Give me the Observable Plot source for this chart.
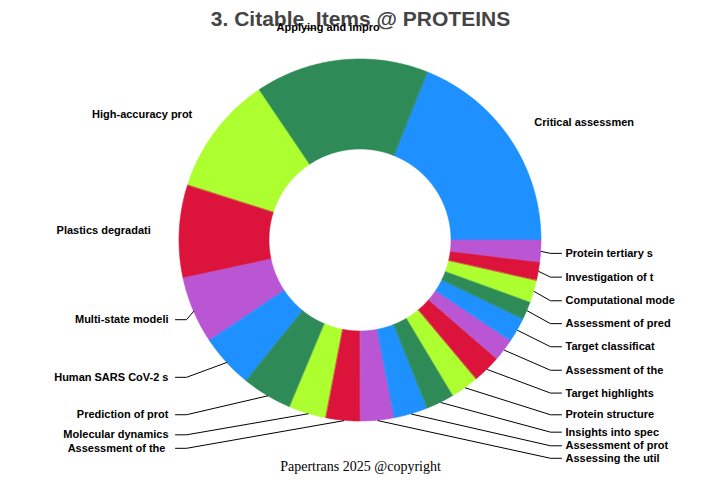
<!DOCTYPE html>
<html>
<head>
<meta charset="utf-8">
<script src="https://cdn.jsdelivr.net/npm/d3@7"></script>
<script src="https://cdn.jsdelivr.net/npm/@observablehq/plot@0.6"></script>
<style>
  html, body { margin: 0; padding: 0; background: #ffffff; }
  #chart { width: 720px; height: 480px; }
</style>
</head>
<body>
<div id="chart"></div>
<script>
// ---- data ----
const titleText = "3. Citable_Items @ PROTEINS";
const captionText = "Papertrans 2025 @copyright";
const labels = [
  "Critical assessmen", "Applying and impro", "High-accuracy prot", "Plastics degradati",
  "Multi-state modeli", "Human SARS CoV-2 s", "Prediction of prot", "Molecular dynamics",
  "Assessment of the ", "Assessing the util", "Assessment of prot", "Insights into spec",
  "Protein structure", "Target highlights", "Assessment of the", "Target classificat",
  "Assessment of pred", "Computational mode", "Investigation of t", "Protein tertiary s"
];
const values = [
  68.2, 55.8, 38.3, 29.8,
  21.5, 17.3, 16.2, 11.9,
  11.0, 10.8, 10.9, 9.1,
  9.0, 9.1, 7.2, 7.9,
  5.9, 7.1, 5.9, 6.9
];
const palette = ["#1E90FF", "#2E8B57", "#ADFF2F", "#DC143C", "#BA55D3"];

// ---- layout constants ----
const W = 720, H = 480;
const cx = 360, cy = 240, R = 181, Ri = 91;
const directR = 210;          // radius for labels of large slices
const rightR = 214, leftR = 203;
const gapR = 12.5, gapL = 13.5;
const font = "Arial, 'Liberation Sans', Helvetica, sans-serif";
const labelSize = 11;

const total = d3.sum(values);
const arcs = d3.pie().sort(null).value(d => d)(values);

// slice bands
const slicePts = [];
arcs.forEach((a, i) => {
  const n = Math.max(2, Math.ceil((a.endAngle - a.startAngle) / 0.01));
  for (let k = 0; k <= n; k++) {
    const t = a.startAngle + (a.endAngle - a.startAngle) * k / n;
    slicePts.push({
      id: i, color: palette[i % palette.length],
      ox: cx + R * Math.cos(t), oy: cy - R * Math.sin(t),
      ix: cx + Ri * Math.cos(t), iy: cy - Ri * Math.sin(t)
    });
  }
});

// labels
const direct = [], right = [], left = [];
arcs.forEach((a, i) => {
  const mid = (a.startAngle + a.endAngle) / 2;
  const frac = values[i] / total;
  const c = Math.cos(mid), s = Math.sin(mid);
  const item = {id: i, text: labels[i], mid, ex: cx + R * c, ey: cy - R * s};
  if (frac >= 0.07) {
    item.x = cx + directR * c;
    item.y = cy - directR * s;
    item.anchor = Math.abs(c) < 0.25 ? "middle" : (c > 0 ? "start" : "end");
    if (item.anchor === "middle") {
      const halfW = labels[i].length * labelSize * 0.29;
      item.x += halfW * c * 1.6;
      item.y -= 4;
    }
    direct.push(item);
  } else if (c >= 0) {
    item.y = cy - rightR * s;
    right.push(item);
  } else {
    item.y = cy - leftR * s;
    left.push(item);
  }
});
function spread(list, gap) {
  list.sort((a, b) => a.y - b.y);
  for (let k = 1; k < list.length; k++) {
    if (list[k].y < list[k - 1].y + gap) list[k].y = list[k - 1].y + gap;
  }
}
spread(right, gapR); spread(left, gapL);

const rightTextX = 565, rightEndX = 561, rightElbowX = 550;
const leftTextX = 168, leftEndX = 175, leftElbowX = 186;
const leaders = [];
right.forEach(d => {
  d.x = rightTextX;
  leaders.push({id: d.id, x: d.ex, y: d.ey}, {id: d.id, x: rightElbowX, y: d.y}, {id: d.id, x: rightEndX, y: d.y});
});
left.forEach(d => {
  d.x = leftTextX;
  leaders.push({id: d.id, x: d.ex, y: d.ey}, {id: d.id, x: leftElbowX, y: d.y}, {id: d.id, x: leftEndX, y: d.y});
});

const labelStyle = {x: "x", y: "y", text: "text", fontSize: labelSize, fontWeight: "bold", fontFamily: font, fill: "#000"};

const chart = Plot.plot({
  width: W, height: H,
  margin: 0,
  x: {domain: [0, W], range: [0, W], axis: null},
  y: {domain: [0, H], range: [0, H], axis: null},
  style: {background: "#ffffff", overflow: "visible"},
  marks: [
    Plot.text([titleText], {x: () => cx, y: () => 19, text: d => d, fontSize: 21, fontWeight: "bold", fontFamily: font, fill: "#444444", textAnchor: "middle"}),
    Plot.area(slicePts, {x1: "ox", y1: "oy", x2: "ix", y2: "iy", z: "id", fill: "color", stroke: "color", strokeWidth: 0.6}),
    Plot.line(leaders, {x: "x", y: "y", z: "id", stroke: "#000", strokeWidth: 1}),
    Plot.text(direct.filter(d => d.anchor === "start"), {...labelStyle, textAnchor: "start"}),
    Plot.text(direct.filter(d => d.anchor === "middle"), {...labelStyle, textAnchor: "middle"}),
    Plot.text(direct.filter(d => d.anchor === "end"), {...labelStyle, textAnchor: "end"}),
    Plot.text(right, {...labelStyle, textAnchor: "start"}),
    Plot.text(left, {...labelStyle, textAnchor: "end"}),
    Plot.text([captionText], {x: () => cx, y: () => 466, text: d => d, fontSize: 14, fontFamily: "'Times New Roman', 'Liberation Serif', serif", fill: "#000", textAnchor: "middle"})
  ]
});
document.getElementById("chart").appendChild(chart);
</script>
</body>
</html>
